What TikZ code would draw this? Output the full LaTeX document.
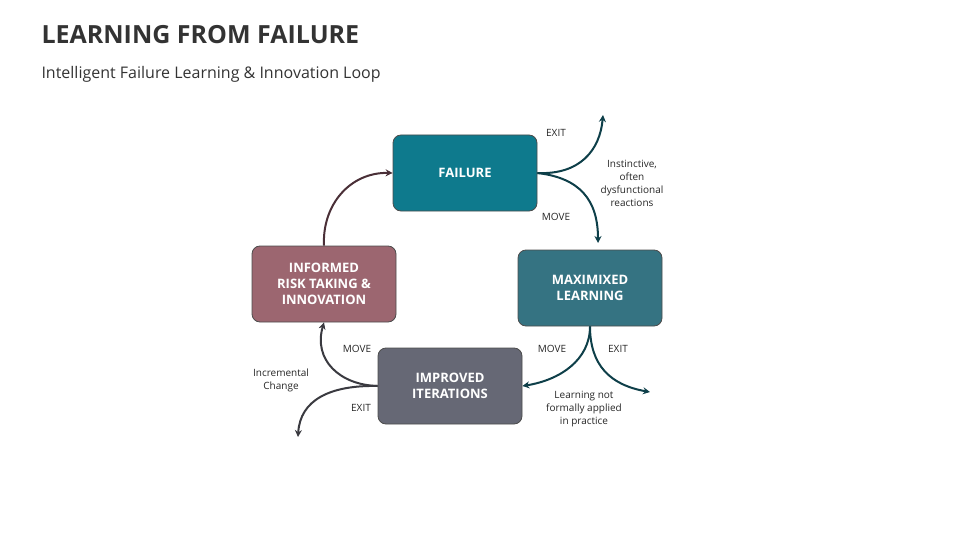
\documentclass[tikz,border=0pt]{standalone}
\usepackage{fontspec}
\setmainfont{Open Sans}
\usetikzlibrary{arrows.meta}
\definecolor{cfail}{HTML}{0E7A8D}
\definecolor{cmax}{HTML}{357382}
\definecolor{cimp}{HTML}{666875}
\definecolor{cinf}{HTML}{9C6670}
\definecolor{aTeal}{HTML}{0E3F49}
\definecolor{aGray}{HTML}{3A3A40}
\definecolor{aRed}{HTML}{4A2F37}
\tikzset{
 box/.style={draw=black!70,line width=0.8pt,rounded corners=8pt,minimum width=144pt,minimum height=76pt,text=white,font=\fontsize{13}{16}\selectfont\bfseries,align=center},
 arr/.style={line width=2pt,-{Stealth[length=7pt,width=7pt]}},
 lab/.style={font=\fontsize{10}{13}\selectfont,text=black!85,align=center}
}
\begin{document}
\begin{tikzpicture}[x=1pt,y=-1pt]
\useasboundingbox (0,0) rectangle (960,540);
\node[anchor=west,font=\fontsize{25}{30}\selectfont\bfseries,text=black!80] (t) at (38,35) {LEARNING FROM FAILURE};
\node[anchor=west,font=\fontsize{16}{20}\selectfont,text=black!80] (s) at (38,74) {Intelligent Failure Learning \& Innovation Loop};
\node[box,fill=cfail] (f) at (465,173) {FAILURE};
\node[box,fill=cmax] (m) at (590,288) {MAXIMIXED\\LEARNING};
\node[box,fill=cimp] (i) at (450,386) {IMPROVED\\ITERATIONS};
\node[box,fill=cinf] (r) at (324,284) {INFORMED\\RISK TAKING \&\\INNOVATION};
\coordinate (fx) at (603,115);
\coordinate (mx) at (650,392);
\coordinate (ix) at (298,437);
\draw[arr,aTeal] (f.east) .. controls (580,178) and (598,200) .. (598,243);
\draw[arr,aTeal] (f.east) .. controls (580,175) and (600,150) .. (fx);
\draw[arr,aTeal] (m.south) .. controls (590,360) and (560,380) .. (i.east);
\draw[arr,aTeal] (m.south) .. controls (590,365) and (610,385) .. (mx);
\draw[arr,aGray] (i.west) .. controls (340,385) and (313,360) .. (r.south);
\draw[arr,aGray] (i.west) .. controls (330,385) and (300,400) .. (ix);
\draw[arr,aRed] (r.north) .. controls (322,205) and (350,172) .. (f.west);
\node[lab] (l1) at (556,133) {EXIT};
\node[lab] (l2) at (556,217) {MOVE};
\node[lab] (l3) at (632,183) {Instinctive,\\often\\dysfunctional\\reactions};
\node[lab] (l4) at (552,349) {MOVE};
\node[lab] (l5) at (618,349) {EXIT};
\node[lab] (l6) at (584,409) {Learning not\\formally applied\\in practice};
\node[lab] (l7) at (357,349) {MOVE};
\node[lab] (l8) at (361,408) {EXIT};
\node[lab] (l9) at (281,380) {Incremental\\Change};
\end{tikzpicture}
\end{document}
